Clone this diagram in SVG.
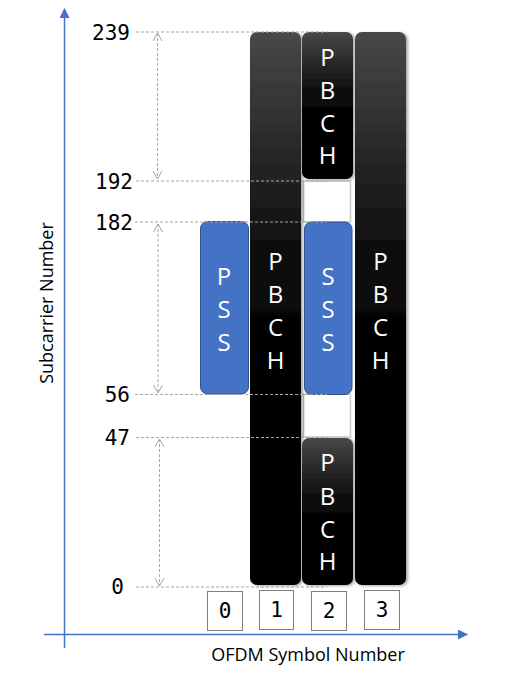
<svg xmlns="http://www.w3.org/2000/svg" width="506" height="674" viewBox="0 0 506 674">
<defs>
<style>
.ax{stroke:#4472C4;stroke-width:1.5;fill:none}
.dot{stroke:#A6A6A6;stroke-width:1;stroke-dasharray:3 2;fill:none}
.dim{stroke:#A6A6A6;stroke-width:1;stroke-dasharray:3 2;fill:none}
.chev{stroke:#A6A6A6;stroke-width:1;fill:none}
.bar{fill:url(#g);filter:url(#sh)}
.blue{fill:#4472C4;stroke:#2F528F;stroke-width:1}
.gap{fill:#fff;stroke:#C9C9C9;stroke-width:1.5}
.lt{font-family:"Open Sans","Noto Sans",sans-serif;font-size:24px;fill:#fff;text-anchor:middle}
.num{font-family:"DejaVu Sans Mono","Liberation Mono",monospace;font-size:21px;fill:#000}
.box{fill:#fff;stroke:#7F7F7F;stroke-width:1}
.lab{font-family:"Open Sans","Noto Sans",sans-serif;font-size:18px;fill:#000}
</style>
<linearGradient id="g" x1="0" y1="0" x2="0" y2="1">
<stop offset="0" stop-color="#484848"/>
<stop offset="0.2" stop-color="#2a2a2a"/>
<stop offset="0.4" stop-color="#0e0e0e"/>
<stop offset="0.6" stop-color="#000"/>
<stop offset="1" stop-color="#000"/>
</linearGradient>
<filter id="sh" x="-20%" y="-5%" width="150%" height="115%">
<feDropShadow dx="2" dy="1" stdDeviation="1.5" flood-color="#000" flood-opacity="0.35"/>
</filter>
<marker id="ah" markerWidth="10" markerHeight="10" refX="9" refY="5" orient="auto" markerUnits="userSpaceOnUse">
<path d="M0,0 L10,5 L0,10 Z" fill="#4472C4"/>
</marker>
</defs>

<g id="axes">
<line class="ax" x1="64.5" y1="648" x2="64.5" y2="9" marker-end="url(#ah)"/>
<line class="ax" x1="44" y1="634.5" x2="467" y2="634.5" marker-end="url(#ah)"/>
<text class="lab" transform="translate(53,303) rotate(-90)" text-anchor="middle">Subcarrier Number</text>
<text class="lab" x="308" y="661" text-anchor="middle">OFDM Symbol Number</text>
</g>

<g id="gaps">
<rect class="gap" x="303.5" y="181" width="47" height="41"/>
<rect class="gap" x="303.5" y="394" width="47" height="43"/>
</g>

<g id="pss">
<rect class="blue" x="200.5" y="221.5" width="48" height="172.5" rx="7"/>
<text class="lt" x="224" y="285">P</text>
<text class="lt" x="224" y="318">S</text>
<text class="lt" x="224" y="351">S</text>
</g>

<g id="pbch1">
<rect class="bar" x="250" y="32" width="51" height="553" rx="7"/>
<text class="lt" x="275.5" y="270">P</text>
<text class="lt" x="275.5" y="303">B</text>
<text class="lt" x="275.5" y="336">C</text>
<text class="lt" x="275.5" y="369">H</text>
</g>

<g id="pbch2top">
<rect class="bar" x="302" y="32" width="51" height="147" rx="7"/>
<text class="lt" x="327.5" y="66">P</text>
<text class="lt" x="327.5" y="99">B</text>
<text class="lt" x="327.5" y="132">C</text>
<text class="lt" x="327.5" y="164">H</text>
</g>

<g id="sss">
<rect class="blue" x="304.5" y="222" width="47.5" height="172.5" rx="7"/>
<text class="lt" x="328" y="285">S</text>
<text class="lt" x="328" y="318">S</text>
<text class="lt" x="328" y="351">S</text>
</g>

<g id="pbch2bot">
<rect class="bar" x="302" y="438" width="51" height="147" rx="7"/>
<text class="lt" x="327.5" y="471">P</text>
<text class="lt" x="327.5" y="505">B</text>
<text class="lt" x="327.5" y="538">C</text>
<text class="lt" x="327.5" y="570">H</text>
</g>

<g id="pbch3">
<rect class="bar" x="355" y="32" width="51" height="553" rx="7"/>
<text class="lt" x="380.5" y="270">P</text>
<text class="lt" x="380.5" y="303">B</text>
<text class="lt" x="380.5" y="336">C</text>
<text class="lt" x="380.5" y="369">H</text>
</g>

<g id="connectors">
<line class="dot" x1="136" y1="32" x2="327" y2="32"/>
<line class="dot" x1="136" y1="181" x2="327" y2="181"/>
<line class="dot" x1="135" y1="222" x2="327" y2="222"/>
<line class="dot" x1="135" y1="394.5" x2="327" y2="394.5"/>
<line class="dot" x1="136" y1="437.5" x2="327" y2="437.5"/>
<line class="dot" x1="136" y1="587" x2="327" y2="587"/>
<line class="dim" x1="157.5" y1="33" x2="157.5" y2="179"/>
<path class="chev" d="M153,41 L157.5,33 L162,41 M153,171 L157.5,179 L162,171"/>
<line class="dim" x1="158" y1="224" x2="158" y2="393"/>
<path class="chev" d="M153.5,232 L158,224 L162.5,232 M153.5,385 L158,393 L162.5,385"/>
<line class="dim" x1="159.5" y1="439" x2="159.5" y2="586"/>
<path class="chev" d="M155,447 L159.5,439 L164,447 M155,578 L159.5,586 L164,578"/>
</g>

<g id="ticks">
<text class="num" x="130" y="39.5" text-anchor="end">239</text>
<text class="num" x="133" y="188.5" text-anchor="end">192</text>
<text class="num" x="133" y="229.5" text-anchor="end">182</text>
<text class="num" x="130" y="401.5" text-anchor="end">56</text>
<text class="num" x="130" y="444.5" text-anchor="end">47</text>
<text class="num" x="124" y="594" text-anchor="end">0</text>
</g>

<g id="symbols">
<rect class="box" x="207.5" y="591.5" width="35" height="39"/>
<text class="num" x="225" y="618" text-anchor="middle">0</text>
<rect class="box" x="259.5" y="590.5" width="34" height="39"/>
<text class="num" x="276.5" y="617" text-anchor="middle">1</text>
<rect class="box" x="311.5" y="591.5" width="35" height="39"/>
<text class="num" x="329" y="618" text-anchor="middle">2</text>
<rect class="box" x="364.5" y="590.5" width="35" height="39"/>
<text class="num" x="382" y="617" text-anchor="middle">3</text>
</g>
</svg>
